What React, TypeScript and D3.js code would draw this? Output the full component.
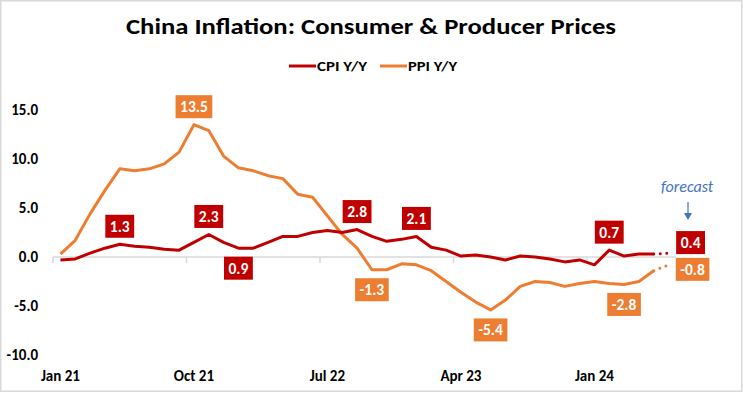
import React from "react";
import * as d3 from "d3";

// ---- data ----
const months: string[] = [
  "Jan 21","Feb 21","Mar 21","Apr 21","May 21","Jun 21","Jul 21","Aug 21","Sep 21","Oct 21","Nov 21","Dec 21",
  "Jan 22","Feb 22","Mar 22","Apr 22","May 22","Jun 22","Jul 22","Aug 22","Sep 22","Oct 22","Nov 22","Dec 22",
  "Jan 23","Feb 23","Mar 23","Apr 23","May 23","Jun 23","Jul 23","Aug 23","Sep 23","Oct 23","Nov 23","Dec 23",
  "Jan 24","Feb 24","Mar 24","Apr 24","May 24","Jun 24",
];
const cpiActual: number[] = [
  -0.3, -0.2, 0.4, 0.9, 1.3, 1.1, 1.0, 0.8, 0.7, 1.5, 2.3, 1.5,
  0.9, 0.9, 1.5, 2.1, 2.1, 2.5, 2.7, 2.5, 2.8, 2.1, 1.6, 1.8,
  2.1, 1.0, 0.7, 0.1, 0.2, 0.0, -0.3, 0.1, 0.0, -0.2, -0.5, -0.3,
  -0.8, 0.7, 0.1, 0.3, 0.3,
];
const ppiActual: number[] = [
  0.3, 1.7, 4.4, 6.8, 9.0, 8.8, 9.0, 9.5, 10.7, 13.5, 12.9, 10.3,
  9.1, 8.8, 8.3, 8.0, 6.4, 6.1, 4.2, 2.3, 0.9, -1.3, -1.3, -0.7,
  -0.8, -1.4, -2.5, -3.6, -4.6, -5.4, -4.4, -3.0, -2.5, -2.6, -3.0, -2.7,
  -2.5, -2.7, -2.8, -2.5, -1.4,
];
const cpiForecast = 0.4;
const ppiForecast = -0.8;
const yTicks: number[] = [-10, -5, 0, 5, 10, 15];
const xTickLabels: string[] = ["Jan 21", "Oct 21", "Jul 22", "Apr 23", "Jan 24"];
const seriesNames: string[] = ["CPI Y/Y", "PPI Y/Y"];

// labelled points: [month, placement]
const cpiLabels: [string, string][] = [
  ["May 21", "above"], ["Nov 21", "above"], ["Jan 22", "below"], ["Sep 22", "above"],
  ["Jan 23", "above"], ["Feb 24", "above"], ["Jun 24", "right"],
];
const ppiLabels: [string, string][] = [
  ["Oct 21", "above"], ["Oct 22", "below"], ["Jun 23", "below"], ["Mar 24", "below"], ["Jun 24", "right"],
];

// ---- style ----
const W = 743, H = 393;
const CPI_COLOR = "#C00000";
const PPI_COLOR = "#ED7D31";
const FONT = "Carlito, Calibri, Lato, 'Open Sans', sans-serif";

function measure(text: string, font: string): number {
  const c = document.createElement("canvas").getContext("2d")!;
  c.font = font;
  return c.measureText(text).width;
}

export default function App() {
  const x = d3.scaleLinear().domain([-0.5, months.length - 0.5]).range([53, 676]);
  const y = d3.scaleLinear().domain([-10, 15]).range([355, 110]);
  const fmt = (v: number) => d3.format(".1f")(v).replace("\u2212", "-");

  const cpiAll = [...cpiActual, cpiForecast];
  const ppiAll = [...ppiActual, ppiForecast];
  const line = d3.line<number>().x((_, i) => x(i)).y((d) => y(d));
  const lastIdx = cpiActual.length - 1;
  const fcLine = (arr: number[]) =>
    d3.line<number>().x((_, i) => x(lastIdx + i)).y((d) => y(d))([arr[lastIdx], arr[lastIdx + 1]]);

  const labelFont = `bold 15.5px ${FONT}`;
  const makeLabels = (defs: [string, string][], vals: number[], color: string) =>
    defs.map(([m, place]) => {
      const i = months.indexOf(m);
      const v = vals[i];
      const txt = fmt(v);
      const w = measure(txt, labelFont) + 9;
      const h = 23;
      let cx = x(i), cy = y(v);
      if (place === "above") cy -= 18;
      else if (place === "below") cy += 20;
      else { cx += 22 + (v < 0 ? 2 : 0); cy += v < 0 ? 4.5 : -10.5; }
      return (
        <g key={m + color}>
          <rect x={cx - w / 2} y={cy - h / 2} width={w} height={h} fill={color} />
          <text x={cx} y={cy + 5.5} textAnchor="middle" fill="#fff" fontSize={15.5} fontWeight="bold" fontFamily={FONT}>
            {txt}
          </text>
        </g>
      );
    });

  const boundaryTicks = xTickLabels.map((l) => months.indexOf(l) - 0.5);

  return (
    <svg width={W} height={H} style={{ position: "absolute", left: 0, top: 0, background: "#fff" }}>
      <rect x={0.75} y={0.75} width={741} height={390.5} fill="#fff" stroke="#d9d9d9" strokeWidth={1.5} />
      <text x={371} y={34} textAnchor="middle" fontSize={22.5} fontWeight="bold" fontFamily={FONT}
        textLength={490} lengthAdjust="spacingAndGlyphs" fill="#000">
        China Inflation: Consumer &amp; Producer Prices
      </text>

      {/* legend */}
      <g fontFamily={FONT} fontSize={13.5} fontWeight="bold">
        <line x1={289} x2={316} y1={66} y2={66} stroke={CPI_COLOR} strokeWidth={3} />
        <text x={317} y={70.5} textLength={50} lengthAdjust="spacingAndGlyphs">{seriesNames[0]}</text>
        <line x1={380} x2={407} y1={66} y2={66} stroke={PPI_COLOR} strokeWidth={3} />
        <text x={408} y={70.5} textLength={49} lengthAdjust="spacingAndGlyphs">{seriesNames[1]}</text>
      </g>

      {/* y axis labels */}
      <g fontFamily={FONT} fontSize={15} fontWeight="bold" textAnchor="end">
        {yTicks.map((t) => (
          <text key={t} x={38} y={y(t) + 5}>{fmt(t)}</text>
        ))}
      </g>

      {/* zero axis */}
      <line x1={x(-0.5)} x2={x(months.length - 0.5)} y1={y(0)} y2={y(0)} stroke="#d9d9d9" strokeWidth={1.5} />
      {boundaryTicks.map((b) => (
        <line key={b} x1={x(b)} x2={x(b)} y1={y(0)} y2={y(0) + 6} stroke="#d9d9d9" strokeWidth={1.5} />
      ))}

      {/* x labels */}
      <g fontFamily={FONT} fontSize={15} fontWeight="bold" textAnchor="middle">
        {xTickLabels.map((l) => (
          <text key={l} x={x(months.indexOf(l))} y={381}>{l}</text>
        ))}
      </g>

      {/* lines */}
      <path d={line(ppiActual) || ""} fill="none" stroke={PPI_COLOR} strokeWidth={3} strokeLinejoin="round" />
      <path d={line(cpiActual) || ""} fill="none" stroke={CPI_COLOR} strokeWidth={3} strokeLinejoin="round" />
      <path d={fcLine(ppiAll) || ""} fill="none" stroke={PPI_COLOR} strokeWidth={3} strokeLinecap="round" strokeDasharray="0 6.5" />
      <path d={fcLine(cpiAll) || ""} fill="none" stroke={CPI_COLOR} strokeWidth={3} strokeLinecap="round" strokeDasharray="0 6.5" />

      {/* data labels */}
      {makeLabels(ppiLabels, ppiAll, PPI_COLOR)}
      {makeLabels(cpiLabels, cpiAll, CPI_COLOR)}

      {/* forecast annotation */}
      <text x={687} y={192} textAnchor="middle" fontSize={16} fontStyle="italic" fontFamily={FONT} fill="#4472C4">forecast</text>
      <line x1={688} x2={688} y1={202} y2={215} stroke="#4472C4" strokeWidth={1.2} />
      <path d={`M684,213 L692,213 L688,220 Z`} fill="#4472C4" />
    </svg>
  );
}
